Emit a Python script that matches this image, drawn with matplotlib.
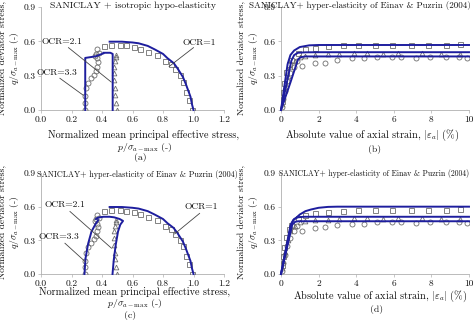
import matplotlib
matplotlib.use("Agg")
import matplotlib.pyplot as plt

plt.rcParams['font.family'] = ['cmr10', 'DejaVu Serif']
plt.rcParams['mathtext.fontset'] = 'cm'
plt.rcParams['axes.formatter.use_mathtext'] = True

# ---------------- data: stress paths (p/sigma, q/sigma) ----------------
# experiments (same in a and c)
exp_p_ocr1 = [0.41, 0.46, 0.52, 0.56, 0.61, 0.65, 0.70, 0.76, 0.81, 0.85, 0.88, 0.91, 0.93, 0.95, 0.97, 0.99]
exp_q_ocr1 = [0.56, 0.57, 0.57, 0.565, 0.553, 0.536, 0.507, 0.478, 0.431, 0.399, 0.358, 0.306, 0.248, 0.16, 0.087, 0.0]
exp_p_ocr21 = [0.50, 0.49, 0.485, 0.485, 0.48, 0.48, 0.48, 0.485, 0.49, 0.49]
exp_q_ocr21 = [0.0, 0.06, 0.13, 0.19, 0.26, 0.32, 0.38, 0.43, 0.46, 0.48]
exp_p_ocr33 = [0.29, 0.29, 0.29, 0.295, 0.31, 0.33, 0.345, 0.36, 0.37, 0.375, 0.37, 0.355, 0.36, 0.38, 0.37]
exp_q_ocr33 = [0.0, 0.06, 0.12, 0.19, 0.24, 0.28, 0.31, 0.34, 0.38, 0.42, 0.45, 0.47, 0.49, 0.50, 0.53]

# simulations (a) hypo-elasticity
sa_p_ocr1 = [0.45, 0.53, 0.60, 0.64, 0.70, 0.745, 0.80, 0.83, 0.87, 0.895, 0.93, 0.948, 0.98, 0.99, 1.0]
sa_q_ocr1 = [0.597, 0.597, 0.59, 0.583, 0.56, 0.53, 0.49, 0.452, 0.41, 0.364, 0.29, 0.233, 0.117, 0.05, 0.0]
sa_p_ocr21 = [0.47, 0.47, 0.455, 0.43, 0.41]
sa_q_ocr21 = [0.0, 0.49, 0.50, 0.50, 0.50]
sa_p_ocr33 = [0.29, 0.29, 0.33, 0.36, 0.39, 0.41]
sa_q_ocr33 = [0.0, 0.455, 0.463, 0.47, 0.485, 0.495]

# simulations (c) hyper-elasticity
sc_p_ocr1 = sa_p_ocr1
sc_q_ocr1 = sa_q_ocr1
sc_p_ocr21 = [0.469, 0.477, 0.49, 0.505, 0.52, 0.538, 0.516, 0.48, 0.45, 0.41, 0.375, 0.36]
sc_q_ocr21 = [0.0, 0.125, 0.26, 0.378, 0.44, 0.473, 0.49, 0.505, 0.51, 0.51, 0.503, 0.49]
sc_p_ocr33 = [0.285, 0.292, 0.309, 0.331, 0.357, 0.375]
sc_q_ocr33 = [0.0, 0.14, 0.27, 0.378, 0.444, 0.48]

# ---------------- data: stress-strain (eps_a %, q/sigma) ----------------
exp_e_ocr1 = [0.05, 0.1, 0.15, 0.25, 0.4, 0.55, 0.9, 1.3, 1.8, 2.5, 3.3, 4.1, 5.0, 5.9, 6.9, 7.8, 8.8, 9.5]
exp_s_ocr1 = [0.08, 0.16, 0.24, 0.33, 0.40, 0.44, 0.50, 0.53, 0.545, 0.555, 0.565, 0.57, 0.57, 0.57, 0.57, 0.57, 0.57, 0.575]
exp_e_ocr21 = [0.05, 0.1, 0.2, 0.35, 0.5, 0.75, 1.0, 1.3, 1.8, 2.5, 3.1, 3.9, 4.6, 5.4, 6.2, 7.5, 8.5, 9.5]
exp_s_ocr21 = [0.05, 0.12, 0.2, 0.3, 0.38, 0.43, 0.46, 0.47, 0.48, 0.485, 0.49, 0.495, 0.495, 0.49, 0.50, 0.495, 0.49, 0.49]
exp_e_ocr33 = [0.05, 0.1, 0.2, 0.3, 0.5, 0.7, 0.85, 1.1, 1.8, 2.35, 3.0, 3.8, 4.4, 5.1, 5.9, 6.4, 7.2, 7.9, 8.8, 9.45, 9.9]
exp_s_ocr33 = [0.03, 0.1, 0.17, 0.25, 0.32, 0.38, 0.43, 0.385, 0.41, 0.415, 0.44, 0.45, 0.45, 0.46, 0.46, 0.46, 0.455, 0.46, 0.46, 0.46, 0.455]

sb_e_ocr1 = [0, 0.2, 0.35, 0.5, 0.7, 1.0, 1.5, 2.0, 3.0, 10]
sb_s_ocr1 = [0, 0.23, 0.40, 0.48, 0.52, 0.55, 0.565, 0.568, 0.568, 0.568]
sb_e_ocr21 = [0, 0.3, 0.55, 0.7, 0.9, 1.3, 2.0, 10]
sb_s_ocr21 = [0, 0.23, 0.43, 0.48, 0.50, 0.504, 0.505, 0.505]
sb_e_ocr33 = [0, 0.5, 0.9, 1.05, 1.3, 10]
sb_s_ocr33 = [0, 0.24, 0.44, 0.462, 0.468, 0.468]

sd_e_ocr1 = [0, 0.3, 0.5, 0.65, 0.8, 1.0, 1.3, 1.6, 2.0, 2.5, 3.0, 10]
sd_s_ocr1 = [0, 0.26, 0.43, 0.48, 0.50, 0.53, 0.56, 0.575, 0.59, 0.598, 0.60, 0.60]
sd_e_ocr21 = [0, 0.3, 0.55, 0.7, 0.9, 1.2, 10]
sd_s_ocr21 = [0, 0.24, 0.45, 0.49, 0.505, 0.51, 0.51]
sd_e_ocr33 = [0, 0.3, 0.6, 0.75, 0.9, 10]
sd_s_ocr33 = [0, 0.22, 0.44, 0.465, 0.47, 0.47]

p_ticks = [0.0, 0.2, 0.4, 0.6, 0.8, 1.0, 1.2]
e_ticks = [0, 2, 4, 6, 8, 10]
q_ticks = [0.0, 0.3, 0.6, 0.9]

title_a = "SANICLAY + isotropic hypo-elasticity"
title_h = "SANICLAY+ hyper-elasticity of Einav & Puzrin (2004)"
ylab = "Normalized deviator stress,\n$q/\\sigma_{a-\\max}$ (-)"

LC = "#1e1e9e"
MC = "#6e6e6e"
TC = "#111111"
W, H = 474, 324

fig = plt.figure(figsize=(W / 100, H / 100), dpi=100)


def mk_ax(l, r, b, t):
    ax = fig.add_axes([l / W, 1 - b / H, (r - l) / W, (b - t) / H])
    for s in ['top', 'right']:
        ax.spines[s].set_visible(False)
    for s in ['left', 'bottom']:
        ax.spines[s].set_color('#b0b0b0')
        ax.spines[s].set_linewidth(0.6)
    ax.tick_params(length=2, width=0.5, color='#b0b0b0', labelsize=6.8,
                   labelcolor=TC, pad=2)
    ax.set_ylim(0, 0.9)
    ax.set_yticks(q_ticks)
    ax.set_yticklabels(["%.1f" % v for v in q_ticks])
    return ax


def markers(ax, xs, ys, m, ms=3.6):
    ax.plot(xs, ys, linestyle='none', marker=m, ms=ms, mfc='none',
            mec=MC, mew=0.6, zorder=3)


def path_panel(ax, sp1, sq1, sp21, sq21, sp33, sq33, labels):
    ax.set_xlim(0, 1.2)
    ax.set_xticks(p_ticks)
    ax.set_xticklabels(["%.1f" % v for v in p_ticks])
    markers(ax, exp_p_ocr1, exp_q_ocr1, 's')
    markers(ax, exp_p_ocr21, exp_q_ocr21, '^', 3.4)
    markers(ax, exp_p_ocr33, exp_q_ocr33, 'o')
    for xs, ys in [(sp1, sq1), (sp21, sq21), (sp33, sq33)]:
        ax.plot(xs, ys, color=LC, lw=1.4, zorder=4, clip_on=False)
    for txt, tpos, p0, p1 in labels:
        ax.text(tpos[0], tpos[1], txt, fontsize=6.9, ha='center', va='center',
                color=TC)
        ax.plot([p0[0], p1[0]], [p0[1], p1[1]], color='#444444', lw=0.6, zorder=5)


def strain_panel(ax, e1, s1, e21, s21, e33, s33):
    ax.set_xlim(0, 10)
    ax.set_xticks(e_ticks)
    ax.set_xticklabels([str(v) for v in e_ticks])
    markers(ax, exp_e_ocr1, exp_s_ocr1, 's')
    markers(ax, exp_e_ocr21, exp_s_ocr21, '^', 3.4)
    markers(ax, exp_e_ocr33, exp_s_ocr33, 'o')
    for xs, ys in [(e1, s1), (e21, s21), (e33, s33)]:
        ax.plot(xs, ys, color=LC, lw=1.4, zorder=4, clip_on=False)


ax_a = mk_ax(41, 224, 110, 7)
path_panel(ax_a, sa_p_ocr1, sa_q_ocr1, sa_p_ocr21, sa_q_ocr21, sa_p_ocr33, sa_q_ocr33,
           [("OCR=1", (1.04, 0.59), (1.0, 0.545), (0.84, 0.38)),
            ("OCR=2.1", (0.135, 0.60), (0.18, 0.545), (0.46, 0.245)),
            ("OCR=3.3", (0.105, 0.326), (0.124, 0.277), (0.276, 0.13))])
fig.text(133 / W, 1 - 6 / H, title_a, fontsize=7, ha='center', va='center', color=TC)

ax_b = mk_ax(281, 469, 110, 7)
strain_panel(ax_b, sb_e_ocr1, sb_s_ocr1, sb_e_ocr21, sb_s_ocr21, sb_e_ocr33, sb_s_ocr33)
fig.text(360 / W, 1 - 5 / H, title_h, fontsize=6.5, ha='center', va='center', color=TC)

ax_c = mk_ax(41, 224, 274, 173)
path_panel(ax_c, sc_p_ocr1, sc_q_ocr1, sc_p_ocr21, sc_q_ocr21, sc_p_ocr33, sc_q_ocr33,
           [("OCR=1", (1.054, 0.596), (1.04, 0.54), (0.876, 0.357)),
            ("OCR=2.1", (0.157, 0.62), (0.19, 0.557), (0.462, 0.23)),
            ("OCR=3.3", (0.12, 0.328), (0.157, 0.274), (0.29, 0.11))])
fig.text(137 / W, 1 - 174 / H, title_h, fontsize=5.9, ha='center', va='center', color=TC)

ax_d = mk_ax(281, 469, 274, 173)
strain_panel(ax_d, sd_e_ocr1, sd_s_ocr1, sd_e_ocr21, sd_s_ocr21, sd_e_ocr33, sd_s_ocr33)
fig.text(374 / W, 1 - 173 / H, title_h, fontsize=5.6, ha='center', va='center', color=TC)

# y labels
for x, y in [(10, 58), (249, 58), (10, 222), (249, 222)]:
    fig.text(x / W, 1 - y / H, ylab, rotation=90, fontsize=6.9, ha='center',
             va='center', linespacing=1.1, color=TC)

# x labels
xl_p = "Normalized mean principal effective stress,"
xl_p2 = "$p/\\sigma_{a-\\max}$ (-)"
xl_e = "Absolute value of axial strain, $|\\varepsilon_a|$ (%)"
for x, y, s, fs in [(144, 135, xl_p, 7.3), (145, 147, xl_p2, 7), (140, 158, "(a)", 7),
                    (372, 135, xl_e, 7.4), (375, 149, "(b)", 7),
                    (135, 292, xl_p, 7.3), (135, 304, xl_p2, 7), (130, 316, "(c)", 7),
                    (380, 296, xl_e, 7.4), (377, 310, "(d)", 7)]:
    fig.text(x / W, 1 - y / H, s, fontsize=fs, ha='center', va='center', color=TC)

fig.savefig("out.png", dpi=100)
